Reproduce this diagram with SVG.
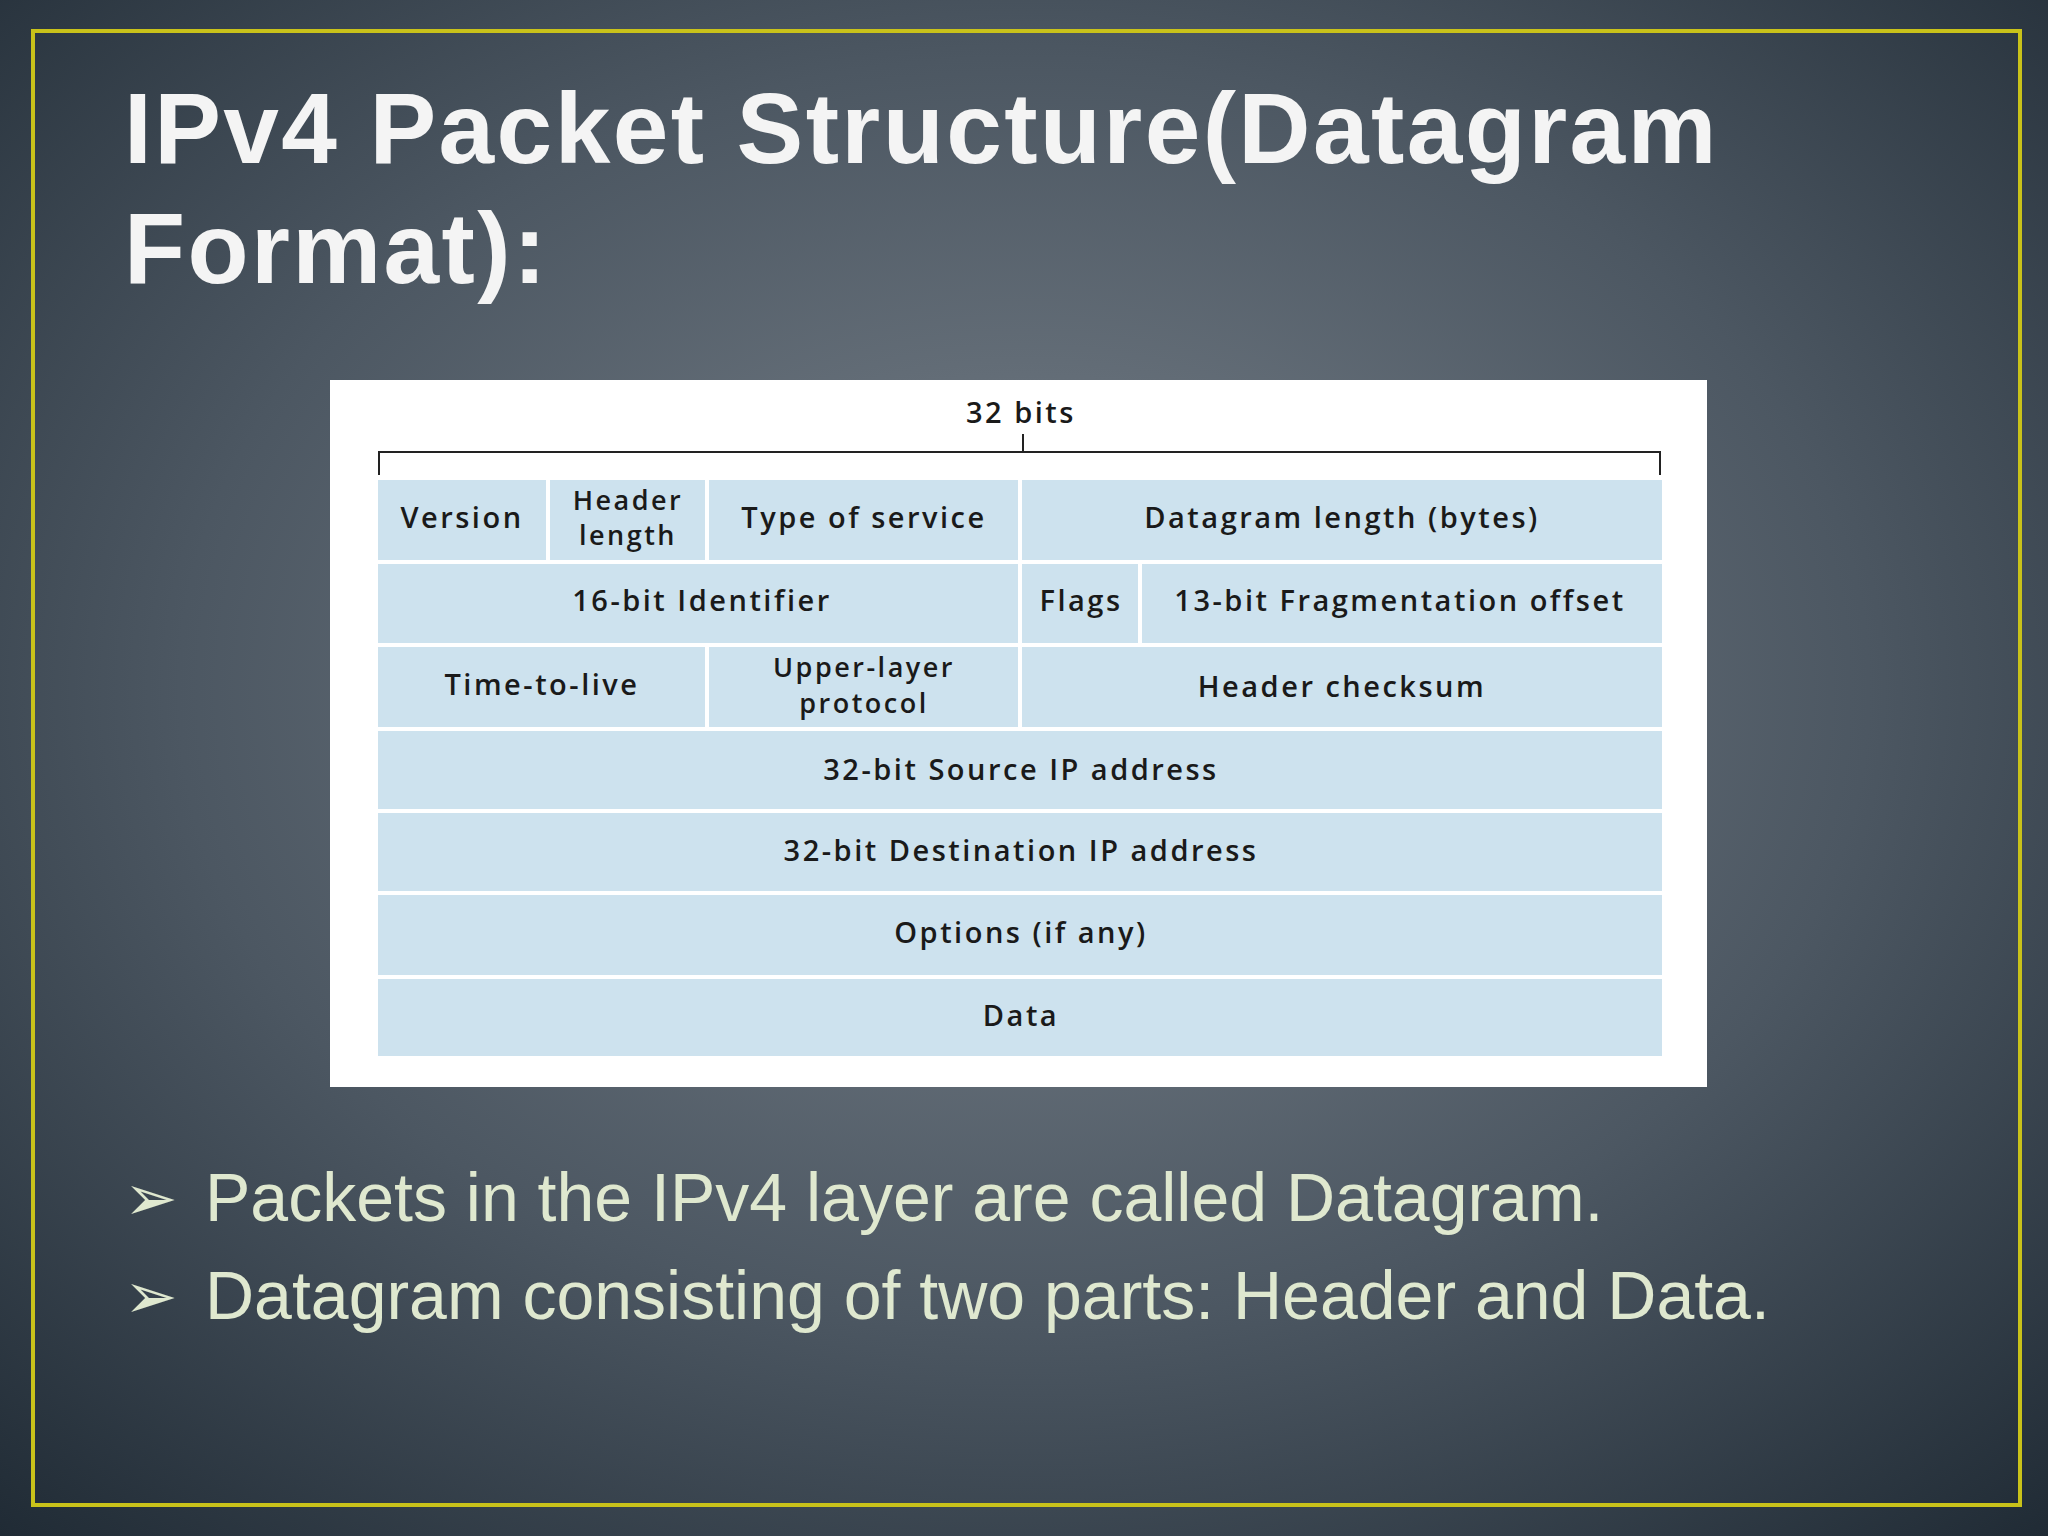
<svg xmlns="http://www.w3.org/2000/svg" width="2048" height="1536" viewBox="0 0 2048 1536">
<defs>
<radialGradient id="bg" cx="50%" cy="45%" r="75%">
<stop offset="0" stop-color="#7a838c"/>
<stop offset="0.55" stop-color="#4c5762"/>
<stop offset="1" stop-color="#1f2a34"/>
</radialGradient>
<style>
.c{fill:#cde2ee;stroke:#fff;stroke-width:4}
.t{font-family:"Open Sans","DejaVu Sans",sans-serif;font-size:29px;font-weight:600;fill:#1a1a1a;text-anchor:middle;letter-spacing:2.5px}
.s{font-size:27px}
.b{font-family:"Liberation Sans",Arial,sans-serif;font-size:68px;fill:#dfe8cf}
.m{font-family:"DejaVu Sans",sans-serif;font-size:64px;fill:#dfe8cf}
</style>
</defs>
<rect width="2048" height="1536" fill="url(#bg)"/>
<rect x="33" y="31" width="1987" height="1474" fill="none" stroke="#c9c21a" stroke-width="4"/>
<g id="title" font-family="'Liberation Sans',Arial,sans-serif" font-weight="bold" font-size="100" fill="#f4f4f4" letter-spacing="2.4">
<text x="124" y="163">IPv4 Packet Structure(Datagram</text>
<text x="124" y="283">Format):</text>
</g>
<rect x="330" y="380" width="1377" height="707" fill="#fff"/>
<g id="brace" stroke="#222" stroke-width="2" fill="none">
<path d="M379,475 V452 H1660 V475 M1023,452 V434"/>
</g>
<text class="t" x="1021" y="423">32 bits</text>
<g id="row1">
<rect class="c" x="376" y="478" width="172" height="84"/><text class="t" x="462" y="528">Version</text>
<rect class="c" x="548" y="478" width="159" height="84"/><text class="t s" x="628" y="510">Header</text><text class="t s" x="628" y="545">length</text>
<rect class="c" x="707" y="478" width="313" height="84"/><text class="t" x="864" y="528">Type of service</text>
<rect class="c" x="1020" y="478" width="644" height="84"/><text class="t" x="1342" y="528">Datagram length (bytes)</text>
</g>
<g id="row2">
<rect class="c" x="376" y="562" width="644" height="83"/><text class="t" x="702" y="611">16-bit Identifier</text>
<rect class="c" x="1020" y="562" width="120" height="83"/><text class="t" x="1081" y="611">Flags</text>
<rect class="c" x="1140" y="562" width="524" height="83"/><text class="t" x="1400" y="611">13-bit Fragmentation offset</text>
</g>
<g id="row3">
<rect class="c" x="376" y="645" width="331" height="84"/><text class="t" x="542" y="695">Time-to-live</text>
<rect class="c" x="707" y="645" width="313" height="84"/><text class="t s" x="864" y="677">Upper-layer</text><text class="t s" x="864" y="713">protocol</text>
<rect class="c" x="1020" y="645" width="644" height="84"/><text class="t" x="1342" y="697">Header checksum</text>
</g>
<g id="row4"><rect class="c" x="376" y="729" width="1288" height="82"/><text class="t" x="1021" y="780">32-bit Source IP address</text></g>
<g id="row5"><rect class="c" x="376" y="811" width="1288" height="82"/><text class="t" x="1021" y="861">32-bit Destination IP address</text></g>
<g id="row6"><rect class="c" x="376" y="893" width="1288" height="84"/><text class="t" x="1021" y="943">Options (if any)</text></g>
<g id="row7"><rect class="c" x="376" y="977" width="1288" height="81"/><text class="t" x="1021" y="1026">Data</text></g>
<g id="bullets">
<text class="m" x="124" y="1220">➢</text>
<text class="b" x="205" y="1221">Packets in the IPv4 layer are called Datagram.</text>
<text class="m" x="124" y="1318">➢</text>
<text class="b" x="205" y="1319">Datagram consisting of two parts: Header and Data.</text>
</g>
</svg>
